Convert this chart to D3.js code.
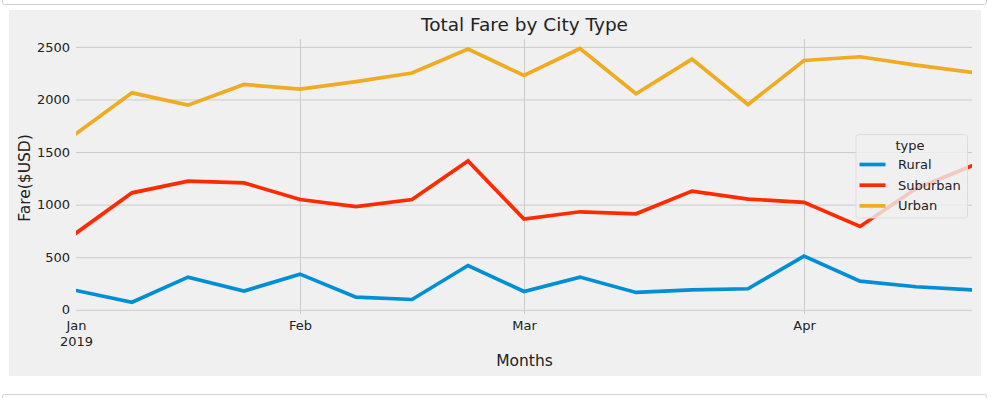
<!DOCTYPE html>
<html>
<head>
<meta charset="utf-8">
<script src="https://cdn.jsdelivr.net/npm/d3@7"></script>
<style>
    html, body { margin: 0; padding: 0; background: #ffffff; }
    #fare-chart { width: 993px; height: 398px; }
    text { font-family: "DejaVu Sans", sans-serif; fill: #222222; }
</style>
</head>
<body>
<div id="fare-chart"></div>
<script>
///// DATA
const weeks = ['2019-01-06', '2019-01-13', '2019-01-20', '2019-01-27', '2019-02-03', '2019-02-10',
    '2019-02-17', '2019-02-24', '2019-03-03', '2019-03-10', '2019-03-17', '2019-03-24',
    '2019-03-31', '2019-04-07', '2019-04-14', '2019-04-21', '2019-04-28'];
const cityTypes = ['Rural', 'Suburban', 'Urban'];
const rural = [184, 72, 311, 178, 339, 120, 98, 421, 174, 311, 165, 190, 200, 510, 273, 219, 190];
const suburban = [729, 1112, 1223, 1207, 1049, 982, 1049, 1415, 862, 932, 913, 1129, 1053, 1021, 792, 1151, 1369];
const urban = [1674, 2063, 1946, 2143, 2098, 2170, 2251, 2479, 2228, 2485, 2054, 2384, 1952, 2371, 2406, 2327, 2257];
const yTicks = [0, 500, 1000, 1500, 2000, 2500];
const monthNames = ['Jan', 'Feb', 'Mar', 'Apr', 'May', 'Jun', 'Jul', 'Aug', 'Sep', 'Oct', 'Nov', 'Dec'];

class FareChart {
    constructor(el) {
        const vis = this;
        vis.el = el;
        vis.colors = ['#008fd5', '#ff2a00', '#efab22'];
        vis.series = [rural, suburban, urban];
        vis.parse = d3.timeParse('%Y-%m-%d');
        vis.dates = weeks.map(vis.parse);
        vis.init();
    }

    init() {
        const vis = this;
        vis.chartDiv = document.getElementById(vis.el);
        vis.chartDiv.innerHTML = '';

        vis.width = 993;
        vis.height = 398;
        vis.svg = d3.select(vis.chartDiv).append('svg')
            .attr('width', vis.width)
            .attr('height', vis.height);

        // NOTEBOOK CELL EDGES
        vis.svg.append('rect')
            .attr('x', 2.5).attr('y', -10).attr('width', 984).attr('height', 14.5)
            .attr('rx', 2).attr('fill', '#ffffff').attr('stroke', '#cfcfcf');
        vis.svg.append('rect')
            .attr('x', 2.5).attr('y', 394.5).attr('width', 984).attr('height', 20)
            .attr('rx', 2).attr('fill', '#ffffff').attr('stroke', '#cfcfcf');

        // FIGURE BACKGROUND
        vis.svg.append('rect')
            .attr('x', 9).attr('y', 10).attr('width', 972).attr('height', 366)
            .attr('fill', '#f0f0f0');

        vis.MARGIN = { top: 39, right: 20, bottom: 84, left: 76 };
        vis.gWIDTH = vis.width - (vis.MARGIN.left + vis.MARGIN.right);
        vis.gHEIGHT = vis.height - (vis.MARGIN.top + vis.MARGIN.bottom);

        vis.g = vis.svg.append('g')
            .attr('transform', `translate(${vis.MARGIN.left}, ${vis.MARGIN.top})`);

        // CLIP TO THE AXES BOX
        vis.svg.append('defs').append('clipPath')
            .attr('id', 'plot-clip')
            .append('rect')
            .attr('width', vis.gWIDTH - 1)
            .attr('height', vis.gHEIGHT);

        vis.redraw();
    }

    redraw() {
        const vis = this;

        // X SCALE
        vis.x = d3.scaleTime()
            .domain(d3.extent(vis.dates))
            .range([0, vis.gWIDTH - 1]);

        // Y SCALE
        vis.y = d3.scaleLinear()
            .domain([-40, 2575])
            .range([vis.gHEIGHT, 0]);

        // MONTH TICKS: WEEK THAT HOLDS THE 1ST OF EACH MONTH
        const xTicks = vis.dates.filter(d => d.getDate() <= 7);

        // GRID + Y AXIS
        const yAxis = vis.g.append('g')
            .call(d3.axisLeft(vis.y)
                .tickValues(yTicks)
                .tickSize(-(vis.gWIDTH - 1))
                .tickPadding(6)
                .tickFormat(d => d));
        yAxis.select('.domain').remove();
        yAxis.selectAll('line').attr('stroke', '#cbcbcb').attr('stroke-width', 1);
        yAxis.selectAll('text')
            .attr('font-size', '13px')
            .attr('fill', '#222222')
            .style('font-family', '"DejaVu Sans", sans-serif');

        // X AXIS
        const xAxis = vis.g.append('g')
            .attr('transform', `translate(0, ${vis.gHEIGHT})`)
            .call(d3.axisBottom(vis.x)
                .tickValues(xTicks)
                .tickSize(-vis.gHEIGHT)
                .tickPadding(7)
                .tickFormat(d => monthNames[d.getMonth()]));
        xAxis.select('.domain').remove();
        xAxis.selectAll('line')
            .attr('stroke', '#cbcbcb')
            .attr('stroke-width', 1)
            .attr('opacity', (d, i) => i === 0 ? 0 : 1);
        xAxis.selectAll('text')
            .attr('font-size', '13px')
            .attr('fill', '#222222')
            .style('font-family', '"DejaVu Sans", sans-serif');
        xAxis.selectAll('.tick')
            .filter((d, i) => i === 0)
            .select('text')
            .append('tspan')
            .attr('x', 0)
            .attr('dy', '1.2em')
            .text(d => d.getFullYear());

        // LINES
        const line = d3.line()
            .x((d, i) => vis.x(vis.dates[i]))
            .y(d => vis.y(d));

        vis.g.append('g')
            .attr('clip-path', 'url(#plot-clip)')
            .selectAll('.fare-line')
            .data(vis.series)
            .enter()
            .append('path')
            .attr('class', 'fare-line')
            .attr('d', d => line(d))
            .attr('fill', 'none')
            .attr('stroke', (d, i) => vis.colors[i])
            .attr('stroke-width', 3.7)
            .attr('stroke-linejoin', 'miter')
            .attr('stroke-linecap', 'square');

        // TITLE
        vis.svg.append('text')
            .attr('x', vis.MARGIN.left + vis.gWIDTH / 2)
            .attr('y', 31)
            .attr('text-anchor', 'middle')
            .attr('font-size', '18.5px')
            .text('Total Fare by City Type');

        // AXIS LABELS
        vis.svg.append('text')
            .attr('x', vis.MARGIN.left + vis.gWIDTH / 2)
            .attr('y', 366)
            .attr('text-anchor', 'middle')
            .attr('font-size', '15.5px')
            .text('Months');

        vis.svg.append('text')
            .attr('transform', `translate(30, 178) rotate(-90)`)
            .attr('text-anchor', 'middle')
            .attr('font-size', '15.5px')
            .text('Fare($USD)');

        vis.makeLegend();
    }

    makeLegend() {
        const vis = this;
        const legend = vis.svg.append('g')
            .attr('transform', 'translate(856, 134.5)');

        legend.append('rect')
            .attr('width', 111.5)
            .attr('height', 83.5)
            .attr('rx', 3)
            .attr('fill', 'rgba(240, 240, 240, 0.8)')
            .attr('stroke', '#dddddd')
            .attr('stroke-width', 1);

        legend.append('text')
            .attr('x', 54)
            .attr('y', 15)
            .attr('text-anchor', 'middle')
            .attr('font-size', '13px')
            .text('type');

        const items = legend.selectAll('.legend-item')
            .data(cityTypes)
            .enter()
            .append('g')
            .attr('class', 'legend-item')
            .attr('transform', (d, i) => `translate(0, ${30 + i * 20.7})`);

        items.append('line')
            .attr('x1', 3.5)
            .attr('x2', 29.5)
            .attr('stroke', (d, i) => vis.colors[i])
            .attr('stroke-width', 3.7);

        items.append('text')
            .attr('x', 42)
            .attr('y', 4.5)
            .attr('font-size', '13px')
            .text(d => d);
    }
}

new FareChart('fare-chart');
</script>
</body>
</html>
